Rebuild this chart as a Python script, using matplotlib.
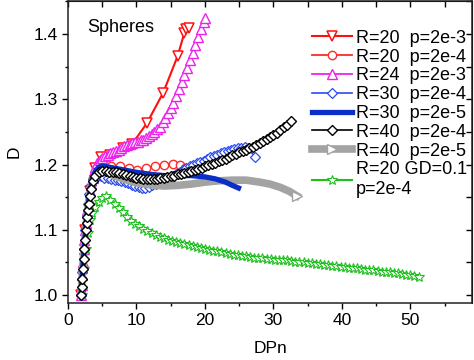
import matplotlib
matplotlib.use("Agg")
import matplotlib.pyplot as plt
from matplotlib.ticker import MultipleLocator

plt.rcParams['font.family'] = ['Liberation Sans', 'DejaVu Sans']
plt.rcParams['font.size'] = 12

# ---------------- data ----------------
r20_3_x = [1.9, 2.5, 3.2, 3.9, 4.8, 6.2, 8.0, 9.4, 11.5, 13.9, 16.0, 17.0, 17.3, 17.7]
r20_3_y = [1.0, 1.10, 1.16, 1.195, 1.212, 1.215, 1.226, 1.232, 1.263, 1.31, 1.366, 1.402, 1.408, 1.41]

r20_4_x = [1.9, 2.4, 3.0, 3.6, 4.3, 5.0, 6.3, 7.6, 8.9, 10.1, 11.4, 12.7, 14.0, 15.4, 16.3, 17.1]
r20_4_y = [1.0, 1.07, 1.14, 1.18, 1.195, 1.2, 1.198, 1.197, 1.194, 1.192, 1.195, 1.198, 1.2, 1.201, 1.199, 1.194]

r24_3_x = [1.9, 2.0, 2.1, 2.2, 2.3, 2.4, 2.5, 2.6, 2.8, 3.0, 3.2, 3.4, 3.6, 3.8, 4.0, 4.3, 4.6,
           5.0, 5.4, 5.8, 6.2, 6.6, 7.0, 7.4, 7.8, 8.2, 8.6, 9.0, 9.4, 9.8, 10.2, 10.6, 11.0,
           11.4, 11.8, 12.2, 12.6, 13.0, 13.4, 13.8, 14.2, 14.6, 15.0, 15.4, 15.8, 16.2, 16.6,
           17.0, 17.4, 17.8, 18.2, 18.6, 19.0, 19.4, 19.8, 20.0]
r24_3_y = [1.000, 1.015, 1.03, 1.05, 1.07, 1.085, 1.10, 1.11, 1.13, 1.145, 1.16, 1.17, 1.18, 1.19,
           1.196, 1.203, 1.207,
           1.210, 1.213, 1.215, 1.217, 1.219, 1.221, 1.223, 1.226, 1.228, 1.230,
           1.231, 1.233, 1.234, 1.235, 1.237, 1.238, 1.240, 1.243, 1.246, 1.250,
           1.254, 1.258, 1.265, 1.272, 1.279, 1.286, 1.295, 1.305, 1.315, 1.326,
           1.337, 1.348, 1.360, 1.371, 1.383, 1.395, 1.407, 1.418, 1.425]

r30_4_x = [1.9, 2.1, 2.3, 2.5, 2.7, 2.9, 3.1, 3.4, 3.7, 4.0, 4.4, 4.8,
           5.3, 5.8, 6.3, 6.8, 7.3, 7.8, 8.3, 8.8, 9.3, 9.8, 10.3, 10.8, 11.3, 11.8,
           12.3, 12.8, 13.3, 13.8, 14.3, 14.8, 15.3, 15.8, 16.3, 16.8, 17.3, 17.8,
           18.3, 18.8, 19.3, 19.8, 20.3, 20.8, 21.3, 21.8, 22.3, 22.8, 23.3, 23.8,
           24.3, 24.8, 25.3, 25.8, 26.3, 27.3]
r30_4_y = [1.0, 1.035, 1.07, 1.10, 1.12, 1.14, 1.155, 1.168, 1.178, 1.182, 1.183, 1.182,
           1.180, 1.179, 1.178, 1.177, 1.176, 1.175, 1.173, 1.171, 1.169, 1.167,
           1.165, 1.164, 1.164, 1.166, 1.168, 1.170, 1.172, 1.174, 1.177, 1.180,
           1.183, 1.186, 1.189, 1.192, 1.195, 1.197, 1.199, 1.202, 1.204, 1.206,
           1.209, 1.211, 1.213, 1.215, 1.217, 1.219, 1.221, 1.222, 1.224, 1.225,
           1.226, 1.227, 1.226, 1.211]

r30_5_x = [1.9, 2.2, 2.5, 2.8, 3.1, 3.5, 4.0, 4.5, 5.0, 6.0, 8.0, 10.0, 12.0, 14.0, 16.0,
           18.0, 20.0, 21.5, 23.0, 24.0, 24.9]
r30_5_y = [1.0, 1.05, 1.09, 1.125, 1.15, 1.175, 1.19, 1.196, 1.198, 1.196, 1.192, 1.188,
           1.185, 1.183, 1.183, 1.183, 1.181, 1.178, 1.173, 1.168, 1.164]

r40_4_x = [1.9, 2.0, 2.1, 2.2, 2.3, 2.4, 2.5, 2.6, 2.7, 2.8, 2.9, 3.0, 3.2, 3.4, 3.7, 4.0, 4.5,
           5.0, 5.5, 6.0, 6.5, 7.0, 7.5, 8.0, 8.5, 9.0, 9.5, 10.0, 10.5, 11.0, 11.5, 12.0,
           12.5, 13.0, 13.5, 14.0, 14.5, 15.0, 15.5, 16.0, 16.5, 17.0, 17.5, 18.0, 18.5,
           19.0, 19.5, 20.0, 20.5, 21.0, 21.5, 22.0, 22.5, 23.0, 23.5, 24.0, 24.5, 25.0,
           25.5, 26.0, 26.5, 27.0, 27.5, 28.0, 28.5, 29.0, 29.5, 30.0, 30.5, 31.0, 31.5,
           32.0, 32.5]
r40_4_y = [1.0, 1.012, 1.025, 1.04, 1.055, 1.07, 1.085, 1.10, 1.11, 1.12, 1.13, 1.14, 1.152,
           1.163, 1.175, 1.182, 1.188,
           1.190, 1.190, 1.189, 1.189, 1.188, 1.187, 1.185, 1.184, 1.183, 1.181, 1.180,
           1.179, 1.178, 1.178, 1.178, 1.178, 1.178, 1.179, 1.180, 1.181, 1.182, 1.183,
           1.185, 1.186, 1.187, 1.189, 1.190, 1.192, 1.193, 1.195, 1.197, 1.199, 1.201,
           1.203, 1.205, 1.207, 1.209, 1.212, 1.214, 1.216, 1.219, 1.221, 1.223, 1.225,
           1.227, 1.230, 1.233, 1.236, 1.239, 1.242, 1.245, 1.249, 1.253, 1.257, 1.261,
           1.266]

r40_5_x = [1.9, 2.2, 2.5, 2.8, 3.1, 3.5, 4.0, 5.0, 6.0, 8.0, 10.0, 12.0, 14.0, 16.0, 18.0,
           20.0, 22.0, 24.0, 26.0, 28.0, 29.5, 31.0, 32.3, 33.4]
r40_5_y = [1.0, 1.05, 1.09, 1.125, 1.15, 1.172, 1.185, 1.19, 1.186, 1.178, 1.172, 1.169,
           1.167, 1.168, 1.17, 1.173, 1.175, 1.176, 1.176, 1.173, 1.170, 1.165, 1.159, 1.152]

gd_x = [2.0, 2.3, 2.6, 2.9, 3.2, 3.5, 4.0, 4.5, 5.0, 5.6,
        6.2, 6.8, 7.4, 8.0, 8.6, 9.2, 9.8, 10.4, 11.0, 11.6,
        12.2, 12.8, 13.4, 14.0, 14.6, 15.2, 15.8, 16.4, 17.0, 17.6,
        18.2, 18.8, 19.4, 20.0, 20.6, 21.2, 21.8, 22.4, 23.0, 23.6,
        24.2, 24.8, 25.4, 26.0, 26.6, 27.2, 27.8, 28.4, 29.0, 29.6,
        30.2, 30.8, 31.4, 32.0, 32.6, 33.2, 33.8, 34.4, 35.0, 35.6,
        36.2, 36.8, 37.4, 38.0, 38.6, 39.2, 39.8, 40.4, 41.0, 41.6,
        42.2, 42.8, 43.4, 44.0, 44.6, 45.2, 45.8, 46.4, 47.0, 47.6,
        48.2, 48.8, 49.4, 50.0, 50.6, 51.2]
gd_y = [1.00, 1.04, 1.07, 1.095, 1.115, 1.125, 1.135, 1.142, 1.148, 1.152,
        1.146, 1.139, 1.133, 1.127, 1.120, 1.114, 1.109, 1.105, 1.101, 1.098,
        1.095, 1.092, 1.089, 1.087, 1.085, 1.083, 1.081, 1.079, 1.078, 1.076,
        1.075, 1.073, 1.072, 1.070, 1.069, 1.068, 1.067, 1.066, 1.064, 1.063,
        1.062, 1.061, 1.060, 1.059, 1.058, 1.057, 1.057, 1.056, 1.055, 1.055,
        1.054, 1.054, 1.053, 1.053, 1.052, 1.051, 1.051, 1.050, 1.049, 1.049,
        1.048, 1.047, 1.046, 1.046, 1.045, 1.044, 1.043, 1.043, 1.042, 1.041,
        1.041, 1.040, 1.039, 1.039, 1.038, 1.037, 1.036, 1.036, 1.035, 1.034,
        1.033, 1.032, 1.031, 1.030, 1.029, 1.028]

labels = ["R=20  p=2e-3", "R=20  p=2e-4", "R=24  p=2e-3", "R=30  p=2e-4",
          "R=30  p=2e-5", "R=40  p=2e-4", "R=40  p=2e-5", "R=20 GD=0.1\np=2e-4"]

# ---------------- figure ----------------
fig = plt.figure(figsize=(4.74, 3.6), dpi=100)
ax = fig.add_axes([0.1435, 0.1583, 0.853, 0.8387])

h = []
h += ax.plot(r20_3_x, r20_3_y, color='#ff1010', lw=1.5, marker='v', ms=7.5,
             mfc='white', mec='#ff1010', mew=1.1, zorder=3)
h += ax.plot(r20_4_x, r20_4_y, color='#ff2a2a', lw=1.3, marker='o', ms=6,
             mfc='white', mec='#ff2a2a', mew=1.0, zorder=3)
h += ax.plot(r24_3_x, r24_3_y, color='#ee22ee', lw=1.3, marker='^', ms=6.5,
             mfc='white', mec='#ee22ee', mew=1.0, zorder=3)
h += ax.plot(r30_4_x, r30_4_y, color='#2a4cf0', lw=1.2, marker='D', ms=5.5,
             mfc='white', mec='#2a4cf0', mew=0.9, zorder=4)
h += ax.plot(r40_5_x, r40_5_y, color='#a3a3a3', lw=5.5, marker='>', ms=7,
             mfc='white', mec='#a3a3a3', mew=1.0, markevery=[len(r40_5_x) - 1], zorder=4)
h += ax.plot(r30_5_x, r30_5_y, color='#0a2fc8', lw=3.8, zorder=5)
h += ax.plot(r40_4_x, r40_4_y, color='black', lw=1.2, marker='D', ms=5.3,
             mfc='white', mec='black', mew=1.0, zorder=6)
h += ax.plot(gd_x, gd_y, color='#1ec01e', lw=1.5, marker='*', ms=7,
             mfc='white', mec='#1ec01e', mew=0.8, zorder=3)

order = [h[0], h[1], h[2], h[3], h[5], h[6], h[4], h[7]]
ax.legend(order, labels, loc='upper left', bbox_to_anchor=(0.603, 0.905),
          frameon=False, borderpad=0, handlelength=2.2, handletextpad=0.25,
          labelspacing=0.1, fontsize=13, borderaxespad=0)

ax.text(0.047, 0.914, "Spheres", transform=ax.transAxes, fontsize=13,
        ha='left', va='center')

ax.set_xlim(0, 59.05)
ax.set_ylim(0.9877, 1.4505)
ax.set_xlabel("DPn", fontsize=12.5, labelpad=9)
ax.set_ylabel("D", fontsize=12.5, labelpad=8)

ax.xaxis.set_major_locator(MultipleLocator(10))
ax.xaxis.set_minor_locator(MultipleLocator(5))
ax.yaxis.set_major_locator(MultipleLocator(0.1))
ax.yaxis.set_minor_locator(MultipleLocator(0.05))
ax.yaxis.set_major_formatter(plt.FuncFormatter(lambda v, p: f"{v:.1f}"))
ax.tick_params(which='major', direction='out', length=4, width=1, labelsize=12.5)
ax.tick_params(which='minor', direction='out', length=2.5, width=1)

sx = ax.secondary_xaxis('top')
sx.xaxis.set_major_locator(MultipleLocator(5))
sx.tick_params(direction='in', length=4, width=1, labeltop=False)
sy = ax.secondary_yaxis('right')
sy.yaxis.set_major_locator(MultipleLocator(0.05))
sy.tick_params(direction='in', length=4, width=1, labelright=False)

for s in ax.spines.values():
    s.set_linewidth(1.1)
    s.set_color('#222222')

fig.savefig("out.png", dpi=100)
